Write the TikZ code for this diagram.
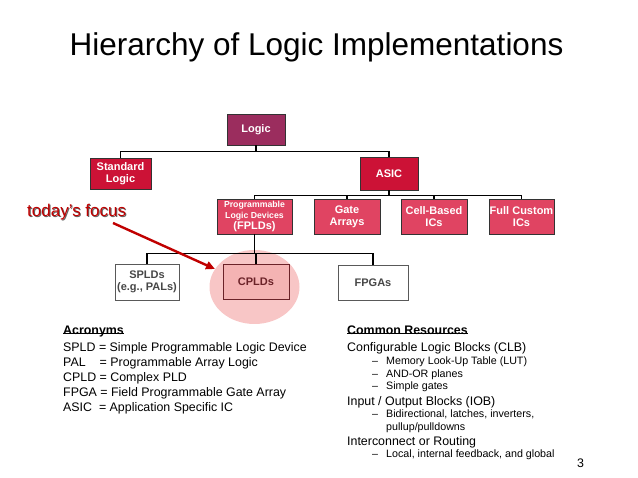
\documentclass[tikz,border=0pt]{standalone}
\usepackage{fontspec}
\setmainfont{Liberation Sans}
\usetikzlibrary{arrows.meta}
\definecolor{logicc}{HTML}{9B2D5E}
\definecolor{asicc}{HTML}{CC1236}
\definecolor{lvlthree}{HTML}{E04462}
\definecolor{cpldfill}{HTML}{F4B3B3}
\definecolor{circfill}{HTML}{F8C6C6}
\definecolor{cpldtext}{HTML}{6B2228}
\definecolor{focusred}{HTML}{C00000}
\tikzset{
  box/.style={draw=black!80, line width=0.9pt, inner sep=0pt, align=center, font=\bfseries\fontsize{11}{11.8}\selectfont},
  darkbox/.style={box, text=white},
  whitebox/.style={box, fill=white, draw=black!65, text=black!72},
  conn/.style={draw=black, line width=1.8pt},
  txt/.style={anchor=base west, inner sep=0pt, font=\fontsize{12.4}{14}\selectfont},
  subtxt/.style={anchor=base west, inner sep=0pt, font=\fontsize{10.7}{12}\selectfont},
  uline/.style={draw=black, line width=0.9pt},
}
\begin{document}
\begin{tikzpicture}[x=1pt,y=-1pt]
\useasboundingbox (0,0) rectangle (638,478);
% title
\node[anchor=base, inner sep=0pt, font=\fontsize{31.5}{34}\selectfont] (title) at (316.5,56) {Hierarchy of Logic Implementations};
% highlight circle
\fill[circfill] (254.5,287) ellipse [x radius=45, y radius=37];
% boxes
\node[darkbox, fill=logicc, minimum width=58pt, minimum height=31pt] (logic) at (256,129.5) {Logic};
\node[darkbox, fill=asicc, minimum width=61pt, minimum height=31pt] (std) at (120.5,173.5) {Standard\\Logic};
\node[darkbox, fill=asicc, minimum width=58pt, minimum height=33pt] (asic) at (389,173.5) {ASIC};
\node[darkbox, fill=lvlthree, minimum width=75pt, minimum height=35pt] (fpld) at (254.5,216.5) {{\fontsize{8.7}{9.6}\selectfont Programmable}\\[-1pt]{\fontsize{8.7}{9.6}\selectfont Logic Devices}\\(FPLDs)};
\node[darkbox, fill=lvlthree, minimum width=66pt, minimum height=35pt] (gate) at (347,216.5) {Gate\\Arrays};
\node[darkbox, fill=lvlthree, minimum width=66pt, minimum height=35pt] (cell) at (434,216.5) {Cell-Based\\ICs};
\node[darkbox, fill=lvlthree, minimum width=65pt, minimum height=35pt] (full) at (521.5,216.5) {Full Custom\\ICs};
\node[whitebox, minimum width=64pt, minimum height=36pt] (spld) at (147,282) {SPLDs\\(e.g., PALs)};
\node[box, fill=cpldfill, draw=cpldtext, text=cpldtext, minimum width=66pt, minimum height=35pt] (cpld) at (256,281.5) {CPLDs};
\node[whitebox, minimum width=70pt, minimum height=35pt] (fpga) at (373,282.5) {FPGAs};
% connectors
\draw[conn] (logic.south) -- ++(0,6) -| (std.north);
\draw[conn] (logic.south) -- ++(0,6) -| (asic.north);
\draw[conn] (asic.south) -- ++(0,5) -| (fpld.north);
\draw[conn] (asic.south) -- ++(0,5) -| (gate.north);
\draw[conn] (asic.south) -- ++(0,5) -| (cell.north);
\draw[conn] (asic.south) -- ++(0,5) -| (full.north);
\draw[conn] (fpld.south) -- ++(0,19) -| (spld.north);
\draw[conn] (fpld.south) -- ++(0,19) -| (cpld.north);
\draw[conn] (fpld.south) -- ++(0,19) -| (fpga.north);
% today's focus
\node[anchor=base west, inner sep=0pt, font=\fontsize{17}{19}\selectfont, text=black!60] (focusshadow) at (28,217.5) {today’s focus};
\node[anchor=base west, inner sep=0pt, font=\fontsize{17}{19}\selectfont, text=focusred] (focus) at (27,216.5) {today’s focus};
\coordinate (arrstart) at (113,223);
\coordinate (arrend) at (215,269);
\draw[draw=focusred, line width=2.4pt, -{Triangle[length=9pt,width=8pt]}] (arrstart) -- (arrend);
% acronyms
\node[txt] (acr) at (63,335) {\textbf{Acronyms}};
\draw[uline] ([yshift=1.6pt]acr.base west) -- ([yshift=1.6pt]acr.base east);
\node[txt] (a1) at (63,351.5) {SPLD = Simple Programmable Logic Device};
\node[txt] (a2) at (63,366.5) {PAL\hspace{14pt}= Programmable Array Logic};
\node[txt] (a3) at (63,381.5) {CPLD = Complex PLD};
\node[txt] (a4) at (63,396.5) {FPGA = Field Programmable Gate Array};
\node[txt] (a5) at (63,411.5) {ASIC\ \ = Application Specific IC};
% common resources
\node[txt] (cr) at (347,335) {\textbf{Common Resources}};
\draw[uline] ([yshift=1.6pt]cr.base west) -- ([yshift=1.6pt]cr.base east);
\node[txt] (c1) at (347,351.5) {Configurable Logic Blocks (CLB)};
\node[subtxt] (d1) at (372,365) {–};
\node[subtxt] (s1) at (386,365) {Memory Look-Up Table (LUT)};
\node[subtxt] (d2) at (372,377.5) {–};
\node[subtxt] (s2) at (386,377.5) {AND-OR planes};
\node[subtxt] (d3) at (372,390) {–};
\node[subtxt] (s3) at (386,390) {Simple gates};
\node[txt] (c2) at (347,405.5) {Input / Output Blocks (IOB)};
\node[subtxt] (d4) at (372,418) {–};
\node[subtxt] (s4) at (386,418) {Bidirectional, latches, inverters,};
\node[subtxt] (s5) at (386,431) {pullup/pulldowns};
\node[txt] (c3) at (347,445.5) {Interconnect or Routing};
\node[subtxt] (d5) at (372,457.5) {–};
\node[subtxt] (s6) at (386,457.5) {Local, internal feedback, and global};
\node[txt] (pg) at (577,468) {3};
\end{tikzpicture}
\end{document}
